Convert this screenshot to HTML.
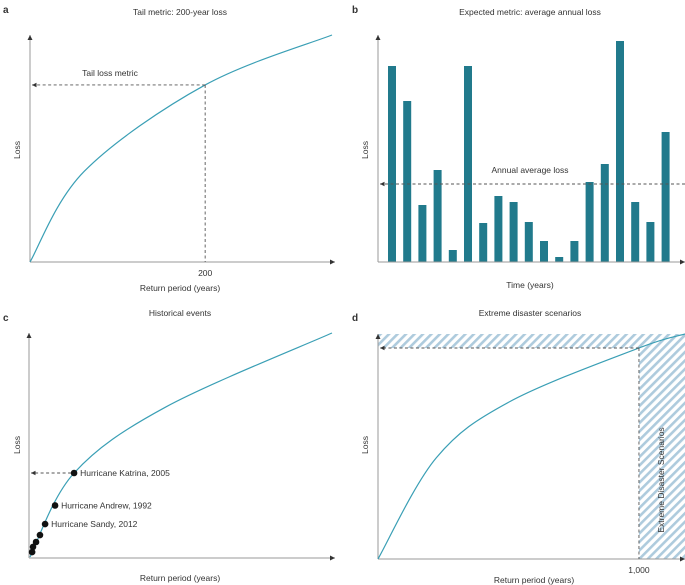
<!DOCTYPE html>
<html><head><meta charset="utf-8"><style>
body{margin:0;background:#fff}
svg{display:block;font-family:"Liberation Sans",sans-serif}
text{fill:#333}
</style></head><body>
<svg id="s" width="685" height="585">
<defs>
<pattern id="hatch" width="6" height="6" patternUnits="userSpaceOnUse" patternTransform="rotate(45)">
<rect width="6" height="6" fill="#fff"/><rect width="2.6" height="6" fill="#aecbdd"/>
</pattern>
<marker id="ar" markerWidth="6" markerHeight="6" refX="5" refY="3" orient="auto"><path d="M0,0.5 L5,3 L0,5.5z" fill="#333"/></marker>
</defs>
<g id="g"></g>
</svg>
<script>
// Panel a curve data (return period in plot units 0..100, loss 0..100)
const curveAx=[0,18,58,100];
const curveAy=[0,40,78,100];
// Panel b bar data
const barVals=[196,161,57,92,12,196,39,66,60,40,21,5,21,80,98,221,60,40,130];
const aal=78;
// Panel c curve + events
const curveCx=[0,14.6,45,100];
const curveCy=[0,37.5,67,100];
const eventsX=[14.6,8.3,5,3.3,2,1,0.7];
const eventsY=[37.5,23,14.7,9.8,6.7,4.5,2.2];
const eventLabels=["Hurricane Katrina, 2005","Hurricane Andrew, 1992","Hurricane Sandy, 2012"];
// Panel d curve
const curveDx=[0,19,43,85,100];
const curveDy=[0,45,70,93.8,100];

const g=document.getElementById('g');
const NS='http://www.w3.org/2000/svg';
function mk(t,a,txt){const e=document.createElementNS(NS,t);for(const k in a)e.setAttribute(k,a[k]);if(txt!=null)e.textContent=txt;g.appendChild(e);return e;}
function smooth(p){let d='M'+p[0][0]+','+p[0][1];for(let i=0;i<p.length-1;i++){const p0=p[i-1]||p[i],p1=p[i],p2=p[i+1],p3=p[i+2]||p2;
d+=' C'+(p1[0]+(p2[0]-p0[0])/6)+','+(p1[1]+(p2[1]-p0[1])/6)+' '+(p2[0]-(p3[0]-p1[0])/6)+','+(p2[1]-(p3[1]-p1[1])/6)+' '+p2[0]+','+p2[1];}return d;}
function axes(x0,y0,x1,y1,name){
 let e=mk('line',{x1:x0,y1:y0,x2:x0,y2:y1,stroke:'#999','stroke-width':1,'marker-end':'url(#ar)'});
 
 e=mk('line',{x1:x0,y1:y0,x2:x1,y2:y0,stroke:'#999','stroke-width':1,'marker-end':'url(#ar)'});
 
}
function txt(x,y,s,name,opt){const e=mk('text',Object.assign({x:x,y:y,'font-size':8.5,'text-anchor':'middle'},opt||{}),s);
 return e;}
function dash(x1,y1,x2,y2,name,arrow){const a={x1:x1,y1:y1,x2:x2,y2:y2,stroke:'#555','stroke-width':0.9,'stroke-dasharray':'3,2.5'};if(arrow)a['marker-end']='url(#ar)';
 const e=mk('line',a);}

// ---- Panel a
const ax=v=>30+v*3.02, ay=v=>262-v*2.27;
txt(3,13,'a','panel-a-letter',{'font-weight':'bold','text-anchor':'start','font-size':10});
txt(180,15,'Tail metric: 200-year loss','panel-a-title');
axes(30,262,335,35,'panel-a');
let p=mk('path',{d:smooth(curveAx.map((v,i)=>[ax(v),ay(curveAy[i])])),fill:'none',stroke:'#3a9fb5','stroke-width':1.2});

dash(ax(58),ay(78),32,ay(78),'tail-loss-line',true);
dash(ax(58),ay(78),ax(58),262,'return-200-line');
txt(110,76,'Tail loss metric','tail-loss-label');
txt(ax(58),276,'200','x-tick-200');
txt(180,291,'Return period (years)','panel-a-x-title');
txt(20,150,'Loss','panel-a-y-title',{transform:'rotate(-90 20 150)'});

// ---- Panel b
const bx=i=>388+i*15.2, by=v=>262-v;
txt(352,13,'b','panel-b-letter',{'font-weight':'bold','text-anchor':'start','font-size':10});
txt(530,15,'Expected metric: average annual loss','panel-b-title');
barVals.forEach((v,i)=>{const r=mk('rect',{x:bx(i),y:by(v),width:8,height:v,fill:'#217a8c'});
 });
axes(378,262,685,35,'panel-b');
dash(685,by(aal),380,by(aal),'aal-line',true);
txt(530,173,'Annual average loss','aal-label');
txt(530,288,'Time (years)','panel-b-x-title');
txt(368,150,'Loss','panel-b-y-title',{transform:'rotate(-90 368 150)'});

// ---- Panel c
const cx=v=>30+v*3.02, cy=v=>557-v*2.24;
txt(3,321,'c','panel-c-letter',{'font-weight':'bold','text-anchor':'start','font-size':10});
txt(180,316,'Historical events','panel-c-title');
axes(29,558,335,333,'panel-c');
p=mk('path',{d:smooth(curveCx.map((v,i)=>[cx(v),cy(curveCy[i])])),fill:'none',stroke:'#3a9fb5','stroke-width':1.2});

dash(cx(eventsX[0])-3,cy(eventsY[0]),31,cy(eventsY[0]),'katrina-loss-line',true);
eventsX.forEach((v,i)=>{const c=mk('circle',{cx:cx(v),cy:cy(eventsY[i]),r:3.3,fill:'#111'});
 
 if(i<eventLabels.length)txt(cx(v)+6,cy(eventsY[i])+3,eventLabels[i],'event-label-'+(i+1),{'text-anchor':'start'});});
txt(180,581,'Return period (years)','panel-c-x-title');
txt(20,445,'Loss','panel-c-y-title',{transform:'rotate(-90 20 445)'});

// ---- Panel d
const dx=v=>378+v*3.07, dy=v=>559-v*2.25;
txt(352,321,'d','panel-d-letter',{'font-weight':'bold','text-anchor':'start','font-size':10});
txt(530,316,'Extreme disaster scenarios','panel-d-title');
let r=mk('rect',{x:378,y:334,width:307,height:14,fill:'url(#hatch)'});

r=mk('rect',{x:dx(85),y:334,width:685-dx(85),height:225,fill:'url(#hatch)'});

axes(378,559,685,334,'panel-d');
p=mk('path',{d:smooth(curveDx.map((v,i)=>[dx(v),dy(curveDy[i])])),fill:'none',stroke:'#3a9fb5','stroke-width':1.2});

dash(dx(85),348,380,348,'extreme-loss-line',true);
dash(dx(85),348,dx(85),559,'return-1000-line');
txt(dx(85),573,'1,000','x-tick-1000');
txt(534,583,'Return period (years)','panel-d-x-title');
txt(664,480,'Extreme Disaster Scenarios','extreme-label',{transform:'rotate(-90 664 480)'});
txt(368,445,'Loss','panel-d-y-title',{transform:'rotate(-90 368 445)'});
</script>
</body></html>
